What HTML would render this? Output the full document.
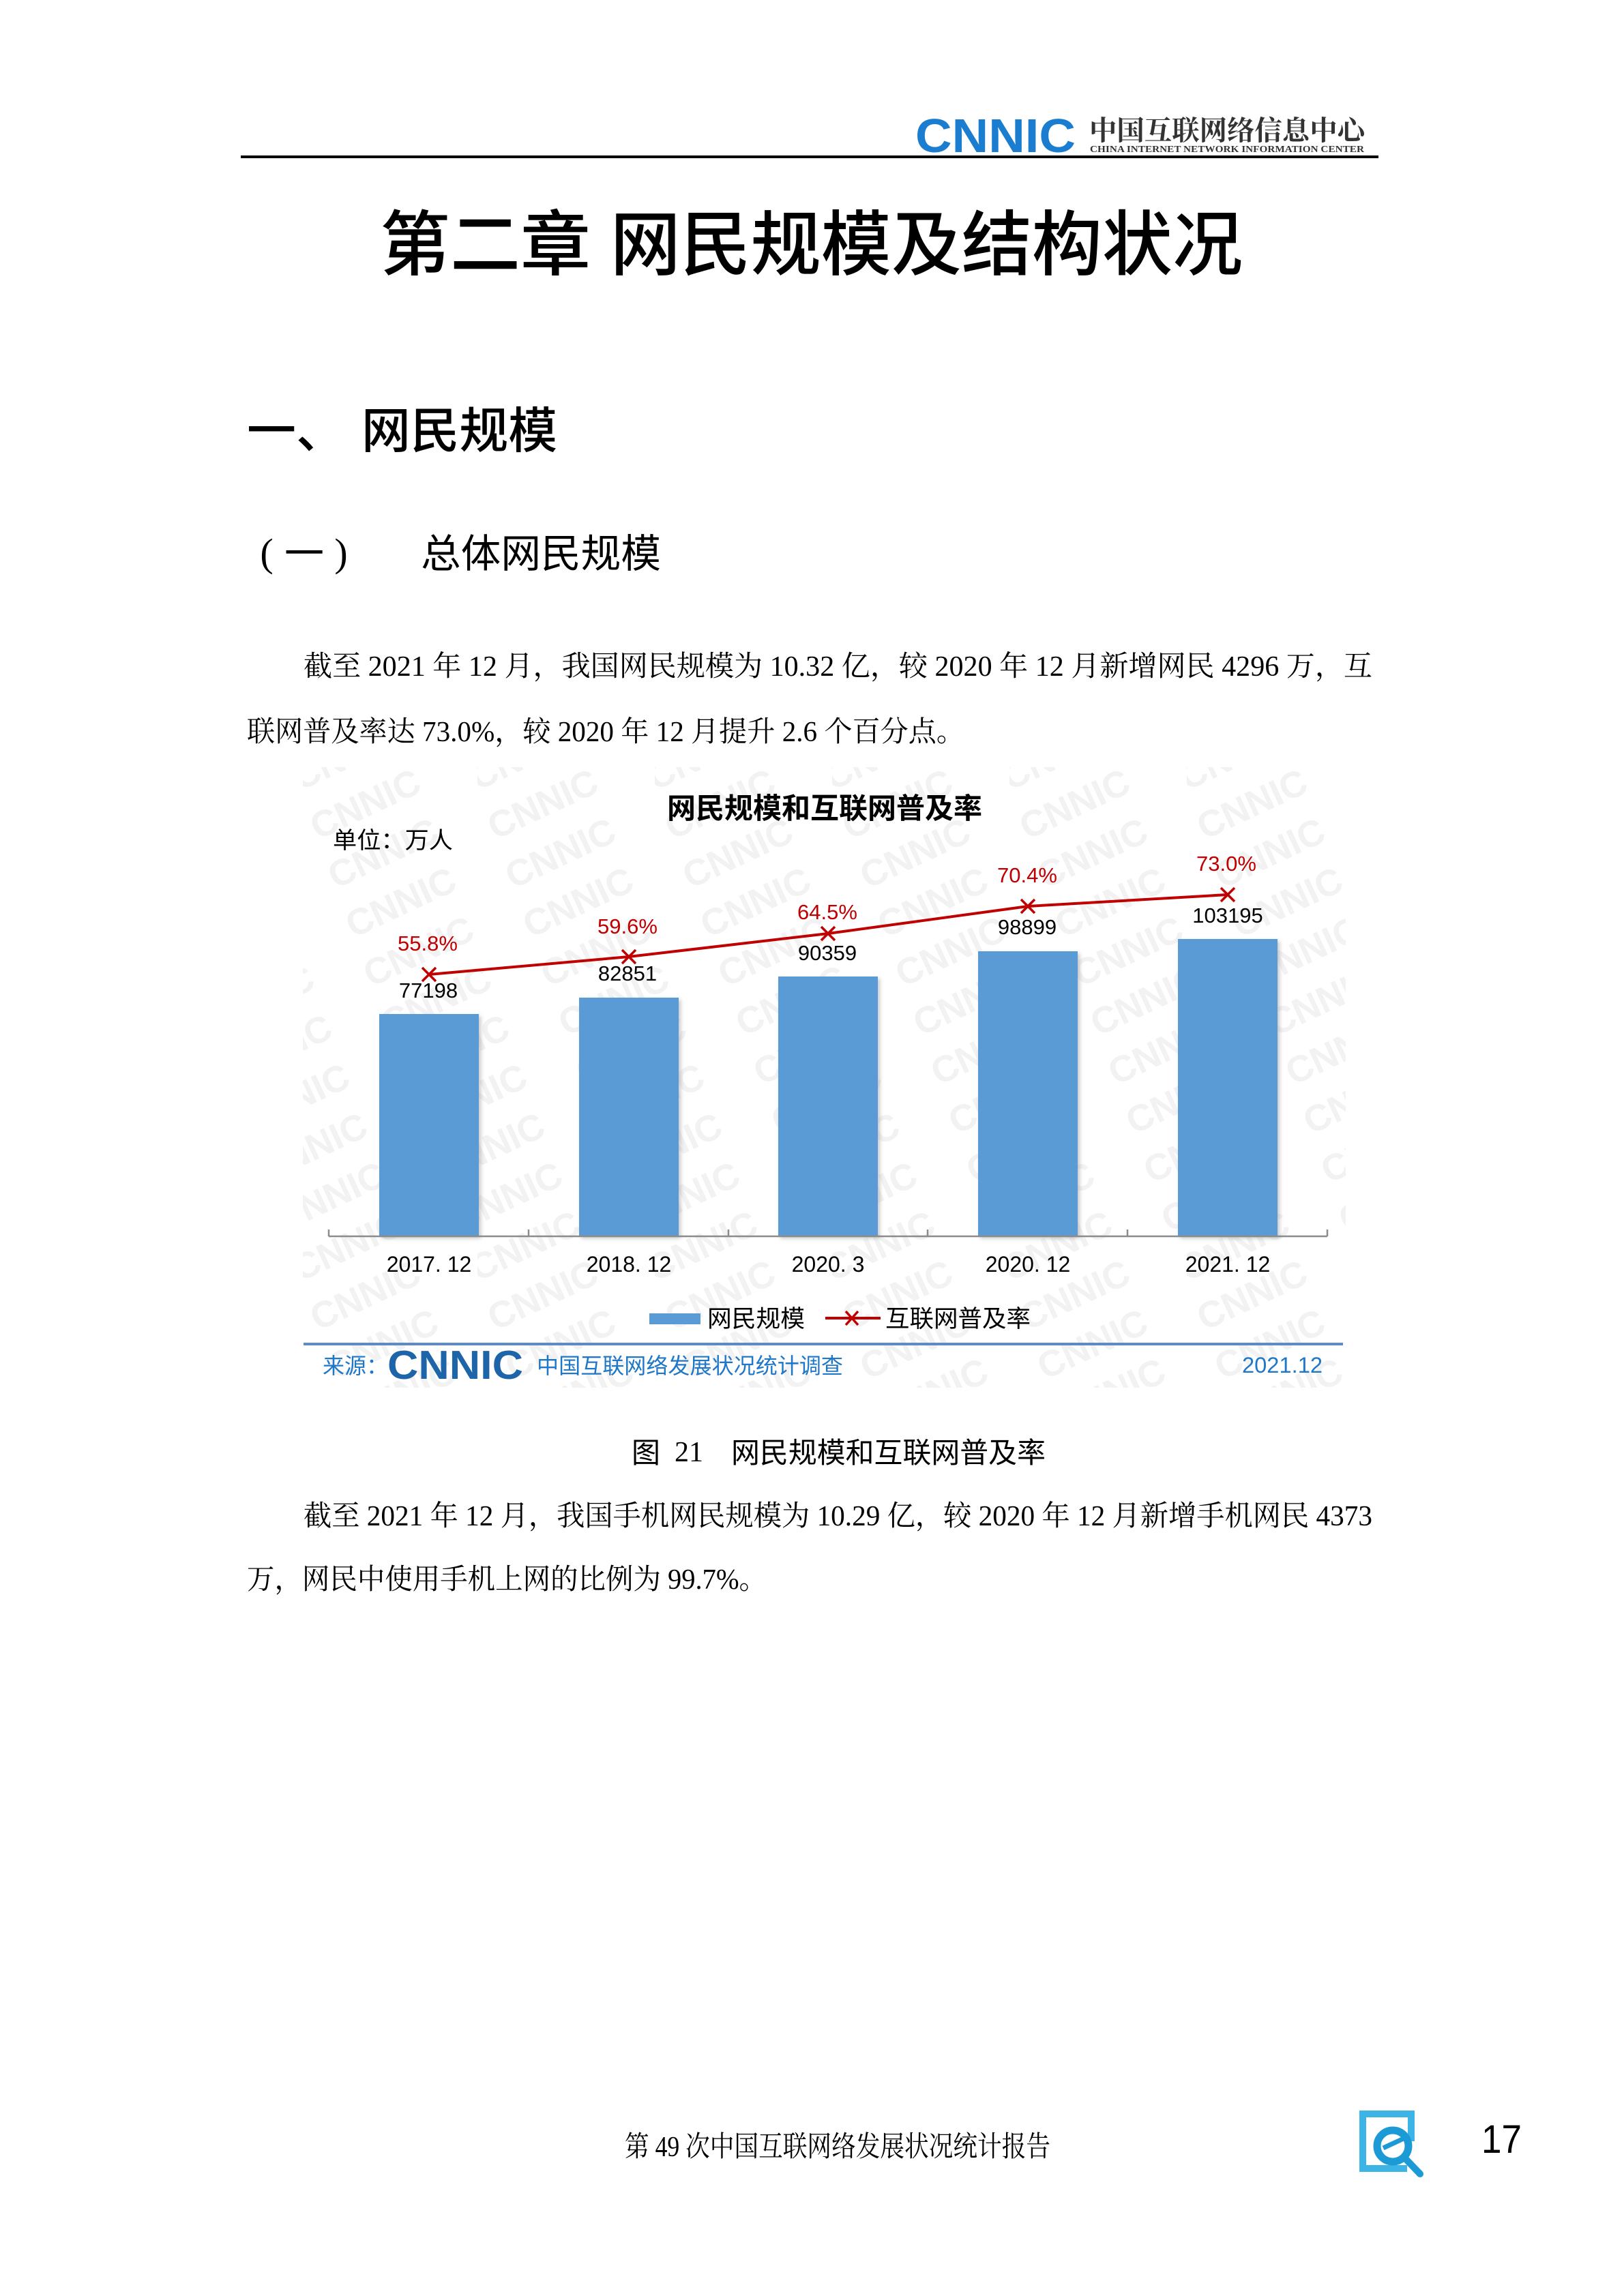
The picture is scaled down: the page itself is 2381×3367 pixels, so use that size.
<!DOCTYPE html>
<html>
<head>
<meta charset="utf-8">
<style>
html,body{margin:0;padding:0;background:#fff;}
svg{display:block;}
</style>
</head>
<body>
<svg xmlns="http://www.w3.org/2000/svg" width="2381" height="3367" viewBox="0 0 2381 3367">
<defs>
  <pattern id="wm" patternUnits="userSpaceOnUse" x="440" y="1100" width="260" height="720">
    <g font-family="Liberation Sans, sans-serif" font-weight="bold" font-size="54" fill="#f2f2f2">
      <text transform="translate(0,60) rotate(-25)">CNNIC</text>
      <text transform="translate(26,132) rotate(-25)">CNNIC</text>
      <text transform="translate(52,204) rotate(-25)">CNNIC</text>
      <text transform="translate(78,276) rotate(-25)">CNNIC</text>
      <text transform="translate(104,348) rotate(-25)">CNNIC</text>
      <text transform="translate(130,420) rotate(-25)">CNNIC</text>
      <text transform="translate(156,492) rotate(-25)">CNNIC</text>
      <text transform="translate(182,564) rotate(-25)">CNNIC</text>
      <text transform="translate(208,636) rotate(-25)">CNNIC</text>
      <text transform="translate(234,708) rotate(-25)">CNNIC</text>
      <text transform="translate(-260,60) rotate(-25)">CNNIC</text>
      <text transform="translate(-234,132) rotate(-25)">CNNIC</text>
      <text transform="translate(-208,204) rotate(-25)">CNNIC</text>
      <text transform="translate(-182,276) rotate(-25)">CNNIC</text>
      <text transform="translate(-156,348) rotate(-25)">CNNIC</text>
      <text transform="translate(-130,420) rotate(-25)">CNNIC</text>
      <text transform="translate(-104,492) rotate(-25)">CNNIC</text>
      <text transform="translate(-78,564) rotate(-25)">CNNIC</text>
      <text transform="translate(-52,636) rotate(-25)">CNNIC</text>
      <text transform="translate(-26,708) rotate(-25)">CNNIC</text>
      <text transform="translate(234,-12) rotate(-25)">CNNIC</text>
      <text transform="translate(-26,-12) rotate(-25)">CNNIC</text>
      <text transform="translate(0,780) rotate(-25)">CNNIC</text>
      <text transform="translate(260,780) rotate(-25)">CNNIC</text>
    </g>
  </pattern>
  <filter id="sh" x="-10%" y="-10%" width="130%" height="130%">
    <feGaussianBlur stdDeviation="3"/>
  </filter>
</defs>

<!-- ===== Header ===== -->
<text x="1342" y="223" font-family="Liberation Sans, sans-serif" font-weight="bold" font-size="70" fill="#1a7dcf" textLength="235" lengthAdjust="spacingAndGlyphs">CNNIC</text>
<text x="1597" y="205" font-family="Liberation Serif, Noto Serif CJK SC, serif" font-weight="bold" font-size="40" fill="#333" textLength="404" lengthAdjust="spacingAndGlyphs">中国互联网络信息中心</text>
<text x="1598" y="223" font-family="Liberation Serif, serif" font-weight="bold" font-size="14" fill="#333" textLength="402" lengthAdjust="spacingAndGlyphs">CHINA INTERNET NETWORK INFORMATION CENTER</text>
<rect x="353" y="228" width="1668" height="4" fill="#000"/>

<!-- ===== Chapter title ===== -->
<text x="557" y="395" font-family="Liberation Sans, Noto Sans CJK SC, sans-serif" font-weight="500" font-size="104" fill="#000" textLength="1265" lengthAdjust="spacingAndGlyphs">第二章 网民规模及结构状况</text>

<!-- ===== Section heading ===== -->
<text x="362" y="657" font-family="Liberation Sans, Noto Sans CJK SC, sans-serif" font-weight="500" font-size="72" fill="#000">一、</text>
<text x="530" y="657" font-family="Liberation Sans, Noto Sans CJK SC, sans-serif" font-weight="500" font-size="72" fill="#000" textLength="287" lengthAdjust="spacingAndGlyphs">网民规模</text>

<!-- ===== Sub heading ===== -->
<text x="391" y="830" text-anchor="middle" font-family="Liberation Serif, serif" font-size="58" fill="#000">(</text>
<text x="446" y="832" text-anchor="middle" font-family="Liberation Sans, Noto Sans CJK SC, sans-serif" font-size="58" fill="#000">一</text>
<text x="500" y="830" text-anchor="middle" font-family="Liberation Serif, serif" font-size="58" fill="#000">)</text>
<text x="617" y="832" font-family="Liberation Sans, Noto Sans CJK SC, sans-serif" font-size="58" fill="#000" textLength="352" lengthAdjust="spacingAndGlyphs">总体网民规模</text>

<!-- ===== Paragraph 1 ===== -->
<g font-family="Liberation Serif, Noto Serif CJK SC, serif" font-size="42" fill="#000">
  <text x="445" y="991" textLength="1567" lengthAdjust="spacingAndGlyphs">截至 2021 年 12 月，我国网民规模为 10.32 亿，较 2020 年 12 月新增网民 4296 万，互</text>
  <text x="362" y="1087" textLength="1052" lengthAdjust="spacingAndGlyphs">联网普及率达 73.0%，较 2020 年 12 月提升 2.6 个百分点。</text>
</g>

<!-- ===== Chart ===== -->
<rect x="444" y="1125" width="1529" height="910" fill="#fff"/>
<rect x="444" y="1125" width="1529" height="910" fill="url(#wm)"/>

<text x="978" y="1200" font-family="Liberation Sans, Noto Sans CJK SC, sans-serif" font-weight="bold" font-size="42" fill="#000" textLength="462" lengthAdjust="spacingAndGlyphs">网民规模和互联网普及率</text>
<text x="488" y="1244" font-family="Liberation Sans, Noto Sans CJK SC, sans-serif" font-size="34" fill="#000" textLength="176" lengthAdjust="spacingAndGlyphs">单位：万人</text>

<!-- bar shadows -->
<g fill="#9a9a9a" opacity="0.55" filter="url(#sh)">
  <rect x="559" y="1490" width="146" height="326"/>
  <rect x="852" y="1466" width="146" height="350"/>
  <rect x="1144" y="1435" width="146" height="381"/>
  <rect x="1437" y="1398" width="146" height="418"/>
  <rect x="1730" y="1380" width="146" height="436"/>
</g>
<!-- bars -->
<g fill="#5b9bd5">
  <rect x="556" y="1487" width="146" height="326"/>
  <rect x="849" y="1463" width="146" height="350"/>
  <rect x="1141" y="1432" width="146" height="381"/>
  <rect x="1434" y="1395" width="146" height="418"/>
  <rect x="1727" y="1377" width="146" height="436"/>
</g>

<!-- axis -->
<g stroke="#8c8c8c" stroke-width="2.5" fill="none">
  <line x1="482" y1="1813" x2="1946" y2="1813"/>
  <line x1="482" y1="1803" x2="482" y2="1813"/>
  <line x1="775" y1="1803" x2="775" y2="1813"/>
  <line x1="1068" y1="1803" x2="1068" y2="1813"/>
  <line x1="1360" y1="1803" x2="1360" y2="1813"/>
  <line x1="1653" y1="1803" x2="1653" y2="1813"/>
  <line x1="1946" y1="1803" x2="1946" y2="1813"/>
</g>

<!-- line series -->
<polyline points="629,1429 922,1403 1214,1369 1507,1329 1800,1312" fill="none" stroke="#c00000" stroke-width="4" stroke-linejoin="round"/>
<g stroke="#c00000" stroke-width="3.5">
  <line x1="619" y1="1419" x2="639" y2="1439"/><line x1="639" y1="1419" x2="619" y2="1439"/>
  <line x1="912" y1="1393" x2="932" y2="1413"/><line x1="932" y1="1393" x2="912" y2="1413"/>
  <line x1="1204" y1="1359" x2="1224" y2="1379"/><line x1="1224" y1="1359" x2="1204" y2="1379"/>
  <line x1="1497" y1="1319" x2="1517" y2="1339"/><line x1="1517" y1="1319" x2="1497" y2="1339"/>
  <line x1="1790" y1="1302" x2="1810" y2="1322"/><line x1="1810" y1="1302" x2="1790" y2="1322"/>
</g>

<!-- data labels -->
<g font-family="Liberation Sans, sans-serif" font-size="31" text-anchor="middle">
  <g fill="#c00000">
    <text x="627" y="1394">55.8%</text>
    <text x="920" y="1369">59.6%</text>
    <text x="1213" y="1348">64.5%</text>
    <text x="1506" y="1294">70.4%</text>
    <text x="1798" y="1277">73.0%</text>
  </g>
  <g fill="#000">
    <text x="628" y="1463">77198</text>
    <text x="920" y="1438">82851</text>
    <text x="1213" y="1408">90359</text>
    <text x="1506" y="1370">98899</text>
    <text x="1800" y="1353">103195</text>
  </g>
</g>

<!-- x labels -->
<g font-family="Liberation Sans, sans-serif" font-size="32" fill="#000" text-anchor="middle">
  <text x="629" y="1865">2017. 12</text>
  <text x="922" y="1865">2018. 12</text>
  <text x="1214" y="1865">2020. 3</text>
  <text x="1507" y="1865">2020. 12</text>
  <text x="1800" y="1865">2021. 12</text>
</g>

<!-- legend -->
<rect x="952" y="1926" width="75" height="16" fill="#5b9bd5"/>
<text x="1037" y="1946" font-family="Liberation Sans, Noto Sans CJK SC, sans-serif" font-size="35" fill="#000" textLength="143" lengthAdjust="spacingAndGlyphs">网民规模</text>
<line x1="1210" y1="1933" x2="1291" y2="1933" stroke="#c00000" stroke-width="4"/>
<g stroke="#c00000" stroke-width="3.5">
  <line x1="1240" y1="1923" x2="1258" y2="1943"/><line x1="1258" y1="1923" x2="1240" y2="1943"/>
</g>
<text x="1298" y="1946" font-family="Liberation Sans, Noto Sans CJK SC, sans-serif" font-size="35" fill="#000" textLength="213" lengthAdjust="spacingAndGlyphs">互联网普及率</text>

<!-- source bar -->
<rect x="445" y="1969" width="1524" height="4" fill="#5b8bc9"/>
<text x="473" y="2014" font-family="Liberation Sans, Noto Sans CJK SC, sans-serif" font-size="32" fill="#1f77c8">来源：</text>
<text x="568" y="2022" font-family="Liberation Sans, sans-serif" font-weight="bold" font-size="59" fill="#1e64a8" textLength="199" lengthAdjust="spacingAndGlyphs">CNNIC</text>
<text x="787" y="2014" font-family="Liberation Sans, Noto Sans CJK SC, sans-serif" font-size="32" fill="#1f77c8" textLength="449" lengthAdjust="spacingAndGlyphs">中国互联网络发展状况统计调查</text>
<text x="1821" y="2013" font-family="Liberation Sans, sans-serif" font-size="32" fill="#1f77c8" textLength="118" lengthAdjust="spacingAndGlyphs">2021.12</text>

<!-- ===== Caption ===== -->
<g font-family="Liberation Sans, Noto Sans CJK SC, sans-serif" font-size="42" fill="#000">
  <text x="926" y="2145">图</text>
  <text x="989" y="2143" font-family="Liberation Serif, serif">21</text>
  <text x="1072" y="2145" textLength="461" lengthAdjust="spacingAndGlyphs">网民规模和互联网普及率</text>
</g>

<!-- ===== Paragraph 2 ===== -->
<g font-family="Liberation Serif, Noto Serif CJK SC, serif" font-size="42" fill="#000">
  <text x="445" y="2237" textLength="1567" lengthAdjust="spacingAndGlyphs">截至 2021 年 12 月，我国手机网民规模为 10.29 亿，较 2020 年 12 月新增手机网民 4373</text>
  <text x="362" y="2330" textLength="762" lengthAdjust="spacingAndGlyphs">万，网民中使用手机上网的比例为 99.7%。</text>
</g>

<!-- ===== Footer ===== -->
<text x="916" y="3162" font-family="Liberation Serif, Noto Serif CJK SC, serif" font-size="42" fill="#000" textLength="624" lengthAdjust="spacingAndGlyphs">第 49 次中国互联网络发展状况统计报告</text>

<!-- footer icon -->
<g>
  <rect x="1993" y="3095" width="10" height="90" fill="#3cb4e6"/>
  <rect x="1993" y="3095" width="81" height="10" fill="#3cb4e6"/>
  <rect x="2064" y="3095" width="10" height="45" fill="#3cb4e6"/>
  <rect x="1993" y="3175" width="70" height="10" fill="#3cb4e6"/>
  <circle cx="2042" cy="3147" r="23" fill="none" stroke="#1c9ad6" stroke-width="11"/>
  <line x1="2060" y1="3165" x2="2082" y2="3188" stroke="#1c9ad6" stroke-width="10" stroke-linecap="round"/>
  <path d="M2028 3150 L2058 3136" stroke="#1c9ad6" stroke-width="7" fill="none"/>
</g>
<text x="2172" y="3157" font-family="Liberation Sans, sans-serif" font-size="58" fill="#000" textLength="59" lengthAdjust="spacingAndGlyphs">17</text>
</svg>
</body>
</html>
